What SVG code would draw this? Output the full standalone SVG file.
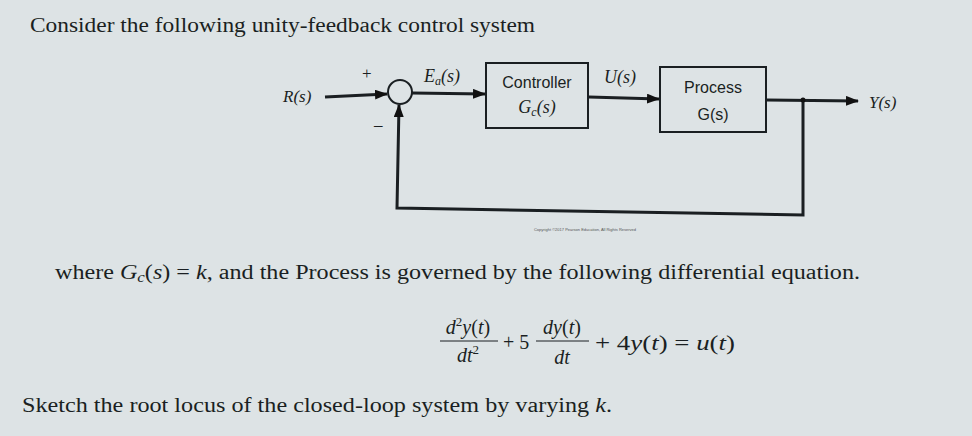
<svg xmlns="http://www.w3.org/2000/svg" width="972" height="436" viewBox="0 0 972 436">
<defs><marker id="ah" markerWidth="13" markerHeight="10" refX="12" refY="5" orient="auto" markerUnits="userSpaceOnUse"><path d="M0,0 L13,5 L0,10 Z" fill="#111"/></marker>
<style>
.t{font-family:"Liberation Serif",serif;fill:#1a1f22}
.s{font-family:"Liberation Sans",sans-serif;fill:#1a1f22;font-size:16px}
.b{fill:none;stroke:#1a1f22;stroke-width:2}
.w{stroke:#1a1f22;stroke-width:3;fill:none}
.m{font-family:"Liberation Serif",serif;font-style:italic;fill:#1a1f22}
</style></defs>
<rect width="972" height="436" fill="#dde3e5"/>
<text class="t" x="30" y="32" font-size="20" textLength="505" lengthAdjust="spacingAndGlyphs">Consider the following unity-feedback control system</text>
<g id="connectors">
<line class="w" x1="325" y1="97" x2="387" y2="94" marker-end="url(#ah)"/>
<line class="w" x1="412" y1="93" x2="485" y2="94" marker-end="url(#ah)"/>
<line class="w" x1="589" y1="97" x2="659" y2="99" marker-end="url(#ah)"/>
<line class="w" x1="767" y1="100" x2="858" y2="101" marker-end="url(#ah)"/>
<polyline class="w" points="803,100 803,215 397,208 399,105" marker-end="url(#ah)"/>
<circle cx="803" cy="100" r="2.5" fill="#111"/>
</g>
<g id="sum"><circle class="b" cx="400" cy="92" r="12"/>
<text class="t" x="362" y="79" font-size="17">+</text><text class="t" x="374" y="130" font-size="17">–</text></g>
<g id="controller"><rect class="b" x="486" y="63" width="102" height="65"/>
<text class="s" x="537" y="88" text-anchor="middle">Controller</text>
<text class="m" x="537" y="113" font-size="18" text-anchor="middle">G<tspan font-size="12" dy="3">c</tspan><tspan dy="-3">(s)</tspan></text></g>
<g id="process"><rect class="b" x="660" y="67" width="106" height="65"/>
<text class="s" x="713" y="93" text-anchor="middle">Process</text>
<text class="s" x="713" y="120" text-anchor="middle">G(s)</text></g>
<g id="labels">
<text class="m" x="283" y="102" font-size="17">R(s)</text>
<text class="m" x="424" y="82" font-size="18">E<tspan font-size="12" dy="3">a</tspan><tspan dy="-3">(s)</tspan></text>
<text class="m" x="604" y="83" font-size="18">U(s)</text>
<text class="m" x="869" y="108" font-size="17">Y(s)</text>
<text x="585" y="231" font-family="Liberation Sans,sans-serif" font-size="4" fill="#555" text-anchor="middle">Copyright ©2017 Pearson Education, All Rights Reserved</text>
</g>
<text class="t" x="55" y="279" font-size="20" textLength="805" lengthAdjust="spacingAndGlyphs">where <tspan class="m">G</tspan><tspan font-size="14" dy="3" class="m">c</tspan><tspan dy="-3">(</tspan><tspan class="m">s</tspan>) = <tspan class="m">k</tspan>, and the Process is governed by the following differential equation.</text>
<g font-size="20">
<text class="t" x="468" y="334" text-anchor="middle"><tspan class="m">d</tspan><tspan font-size="13" dy="-8">2</tspan><tspan class="m" dy="8">y</tspan>(<tspan class="m">t</tspan>)</text>
<line x1="440" y1="341" x2="498" y2="341" stroke="#1a1f22" stroke-width="1"/>
<text class="t" x="468" y="362" text-anchor="middle"><tspan class="m">dt</tspan><tspan font-size="13" dy="-8">2</tspan></text>
<text class="t" x="503" y="349">+ 5</text>
<text class="t" x="562" y="334" text-anchor="middle"><tspan class="m">dy</tspan>(<tspan class="m">t</tspan>)</text>
<line x1="536" y1="341" x2="589" y2="341" stroke="#1a1f22" stroke-width="1"/>
<text class="t" x="562" y="364" text-anchor="middle"><tspan class="m">dt</tspan></text>
<text class="t" x="595" y="350" textLength="140" lengthAdjust="spacingAndGlyphs">+ 4<tspan class="m">y</tspan>(<tspan class="m">t</tspan>) = <tspan class="m">u</tspan>(<tspan class="m">t</tspan>)</text>
</g>
<text class="t" x="22" y="412" font-size="20" textLength="590" lengthAdjust="spacingAndGlyphs">Sketch the root locus of the closed-loop system by varying <tspan class="m">k</tspan>.</text>
</svg>
